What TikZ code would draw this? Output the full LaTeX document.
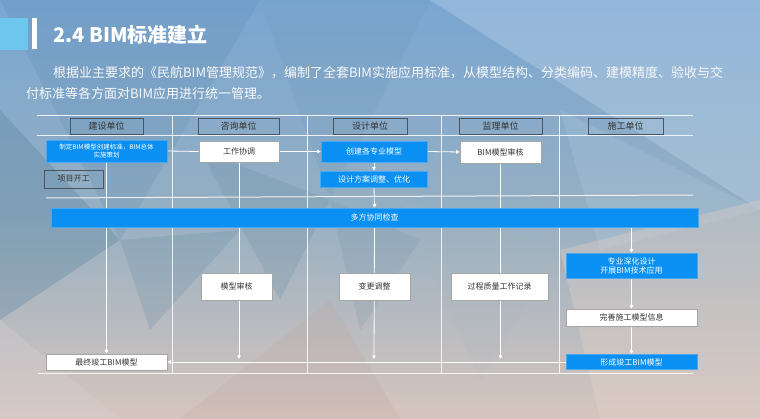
\documentclass[tikz,border=0pt]{standalone}
\usepackage{fontspec}
\setmainfont{Noto Sans CJK SC}
\usetikzlibrary{arrows.meta}
\pgfdeclarelayer{background}
\pgfsetlayers{background,main}
\definecolor{bgtop}{HTML}{79A6D2}
\definecolor{bgmid}{HTML}{95AFC2}
\definecolor{bgbot}{HTML}{D6C5BE}
\definecolor{boxblue}{HTML}{0A8FF2}
\definecolor{boxblueb}{HTML}{49A8F0}
\definecolor{txtdark}{HTML}{333333}
\definecolor{hdrline}{HTML}{4A5560}
\definecolor{cyanblk}{HTML}{6CC6EE}
\definecolor{fa}{HTML}{4F7D9C}
\definecolor{fb}{HTML}{5A88B0}
\definecolor{fc}{HTML}{C4D9EE}
\definecolor{fd}{HTML}{6D97B8}
\definecolor{fe}{HTML}{5F8499}
\definecolor{ff}{HTML}{D8D0D4}
\definecolor{fg}{HTML}{BFA59D}
\definecolor{fh}{HTML}{E6D3C8}
\definecolor{fi}{HTML}{A8B6BF}
\tikzset{
  hdr/.style={draw=hdrline, line width=0.8pt, text=txtdark, font=\fontsize{9}{10}\selectfont, minimum height=16pt, inner sep=0pt},
  bluebox/.style={fill=boxblue, draw=boxblueb, line width=0.5pt, text=white, font=\fontsize{8}{9}\selectfont, inner sep=0pt, align=center},
  whitebox/.style={fill=white, draw=gray!70, line width=0.6pt, text=txtdark, font=\fontsize{8}{9}\selectfont, inner sep=0pt, align=center},
  outbox/.style={draw=hdrline, line width=0.8pt, text=txtdark, font=\fontsize{8}{9}\selectfont, inner sep=0pt},
  grid/.style={draw=white, opacity=0.85, line width=1pt},
  vgrid/.style={draw=white, opacity=0.85, line width=0.8pt},
  conn/.style={draw=white, line width=0.8pt},
  arr/.style={conn, -{Triangle[width=3.5pt,length=3.5pt]}}
}
\begin{document}
\begin{tikzpicture}[x=1pt,y=-1pt]
\useasboundingbox (0,0) rectangle (760,419);
\begin{pgfonlayer}{background}
  \shade[top color=bgtop, bottom color=bgbot, middle color=bgmid] (0,0) rectangle (760,419);
  % low-poly facets (subtle)
  \fill[fa, opacity=0.30] (0,110) -- (120,240) -- (0,320) -- cycle;
  \fill[fa, opacity=0.18] (120,240) -- (240,230) -- (150,330) -- cycle;
  \fill[fb, opacity=0.22] (0,0) -- (260,0) -- (120,240) -- cycle;
  \fill[fc, opacity=0.35] (430,0) -- (760,0) -- (760,210) -- cycle;
  \fill[fc, opacity=0.18] (560,110) -- (760,210) -- (600,250) -- cycle;
  \fill[fd, opacity=0.20] (260,0) -- (430,0) -- (330,200) -- cycle;
  \fill[fe, opacity=0.20] (200,150) -- (330,200) -- (280,300) -- cycle;
  \fill[fe, opacity=0.15] (330,200) -- (420,240) -- (360,330) -- cycle;
  \fill[ff, opacity=0.35] (0,320) -- (120,419) -- (0,419) -- cycle;
  \fill[fg, opacity=0.22] (180,419) -- (330,300) -- (400,419) -- cycle;
  \fill[fh, opacity=0.35] (560,250) -- (760,200) -- (760,419) -- (600,419) -- cycle;
  \fill[fi, opacity=0.16] (400,200) -- (560,250) -- (480,380) -- cycle;
  % title decoration
  \fill[cyanblk] (0,18) rectangle (28,50);
  \fill[white] (32,18) rectangle (37,49);
  % table grid
  \draw[grid] (37,116) -- (693,116);
  \draw[grid] (37,136) -- (693,136);
  \draw[grid] (46,198) -- (693,195);
  \draw[grid] (38,373) -- (693,373);
  \draw[vgrid] (172,116) -- (172,373);
  \draw[vgrid] (307,116) -- (307,373);
  \draw[vgrid] (441,116) -- (441,373);
  \draw[vgrid] (559,116) -- (559,373);
\end{pgfonlayer}

% title and paragraph
\node[anchor=west, inner sep=0pt, text=white, font=\fontsize{20}{22}\selectfont\bfseries] (title) at (53,35) {2.4 BIM标准建立};
\node[anchor=west, inner sep=0pt, text=white!95!gray, font=\fontsize{13}{14}\selectfont] (p1) at (53,73) {根据业主要求的《民航BIM管理规范》，编制了全套BIM实施应用标准，从模型结构、分类编码、建模精度、验收与交};
\node[anchor=west, inner sep=0pt, text=white!95!gray, font=\fontsize{13}{14}\selectfont] (p2) at (26,94) {付标准等各方面对BIM应用进行统一管理。};

% headers
\node[hdr, minimum width=73pt] (h1) at (106.5,126) {建设单位};
\node[hdr, minimum width=81pt] (h2) at (238.5,126) {咨询单位};
\node[hdr, minimum width=74pt] (h3) at (370,126) {设计单位};
\node[hdr, minimum width=83pt] (h4) at (500.5,126) {监理单位};
\node[hdr, minimum width=75pt] (h5) at (625.5,126) {施工单位};

% boxes
\node[bluebox, minimum width=121pt, minimum height=22pt, font=\fontsize{6.5}{7.5}\selectfont] (b1) at (106.5,151) {制定BIM模型创建标准，BIM总体\\实施策划};
\node[whitebox, minimum width=80pt, minimum height=21pt] (w1) at (239,151.5) {工作协调};
\node[bluebox, minimum width=106pt, minimum height=21pt] (b2) at (374,151.5) {创建各专业模型};
\node[whitebox, minimum width=81pt, minimum height=22pt] (w2) at (500.5,152) {BIM模型审核};
\node[outbox, minimum width=59pt, minimum height=18pt] (o1) at (73.5,179) {项目开工};
\node[bluebox, minimum width=107pt, minimum height=16pt] (b3) at (374,179) {设计方案调整、优化};
\node[bluebox, minimum width=647pt, minimum height=19pt] (b4) at (374.5,217.5) {多方协同检查};
\node[whitebox, minimum width=71pt, minimum height=27pt] (w3) at (236.5,286.5) {模型审核};
\node[whitebox, minimum width=71pt, minimum height=27pt] (w4) at (374.5,286.5) {变更调整};
\node[whitebox, minimum width=97pt, minimum height=27pt] (w5) at (499.5,286.5) {过程质量工作记录};
\node[bluebox, minimum width=131pt, minimum height=25pt] (b5) at (631.5,265.5) {专业深化设计\\开展BIM技术应用};
\node[whitebox, minimum width=131pt, minimum height=17pt] (w6) at (631.5,317.5) {完善施工模型信息};
\node[bluebox, minimum width=131pt, minimum height=15pt] (b6) at (631.5,362) {形成竣工BIM模型};
\node[whitebox, minimum width=121pt, minimum height=16pt] (w7) at (106.5,362) {最终竣工BIM模型};

\coordinate (e1) at (239,359);
\coordinate (e2) at (374,359);
\coordinate (e3) at (500.5,359);

\begin{pgfonlayer}{background}
  \draw[conn] (b1.east) -- (w1.west);
  \draw[arr] (w1.east) -- (b2.west);
  \draw[arr] (b2.east) -- (w2.west);
  \draw[arr] (b2.south) -- (b3.north);
  \draw[arr] (b3.south) -- (b4.north);
  \draw[arr] (b1.south) -- (w7.north);
  \draw[arr] (w1.south) -- (e1);
  \draw[arr] (b4.south) -- (e2);
  \draw[arr] (w2.south) -- (e3);
  \draw[arr] (b5.north |- b4.south) -- (b5.north);
  \draw[arr] (b5.south) -- (w6.north);
  \draw[arr] (w6.south) -- (b6.north);
  \draw[arr] (b6.west) -- (w7.east);
\end{pgfonlayer}
\end{tikzpicture}
\end{document}
